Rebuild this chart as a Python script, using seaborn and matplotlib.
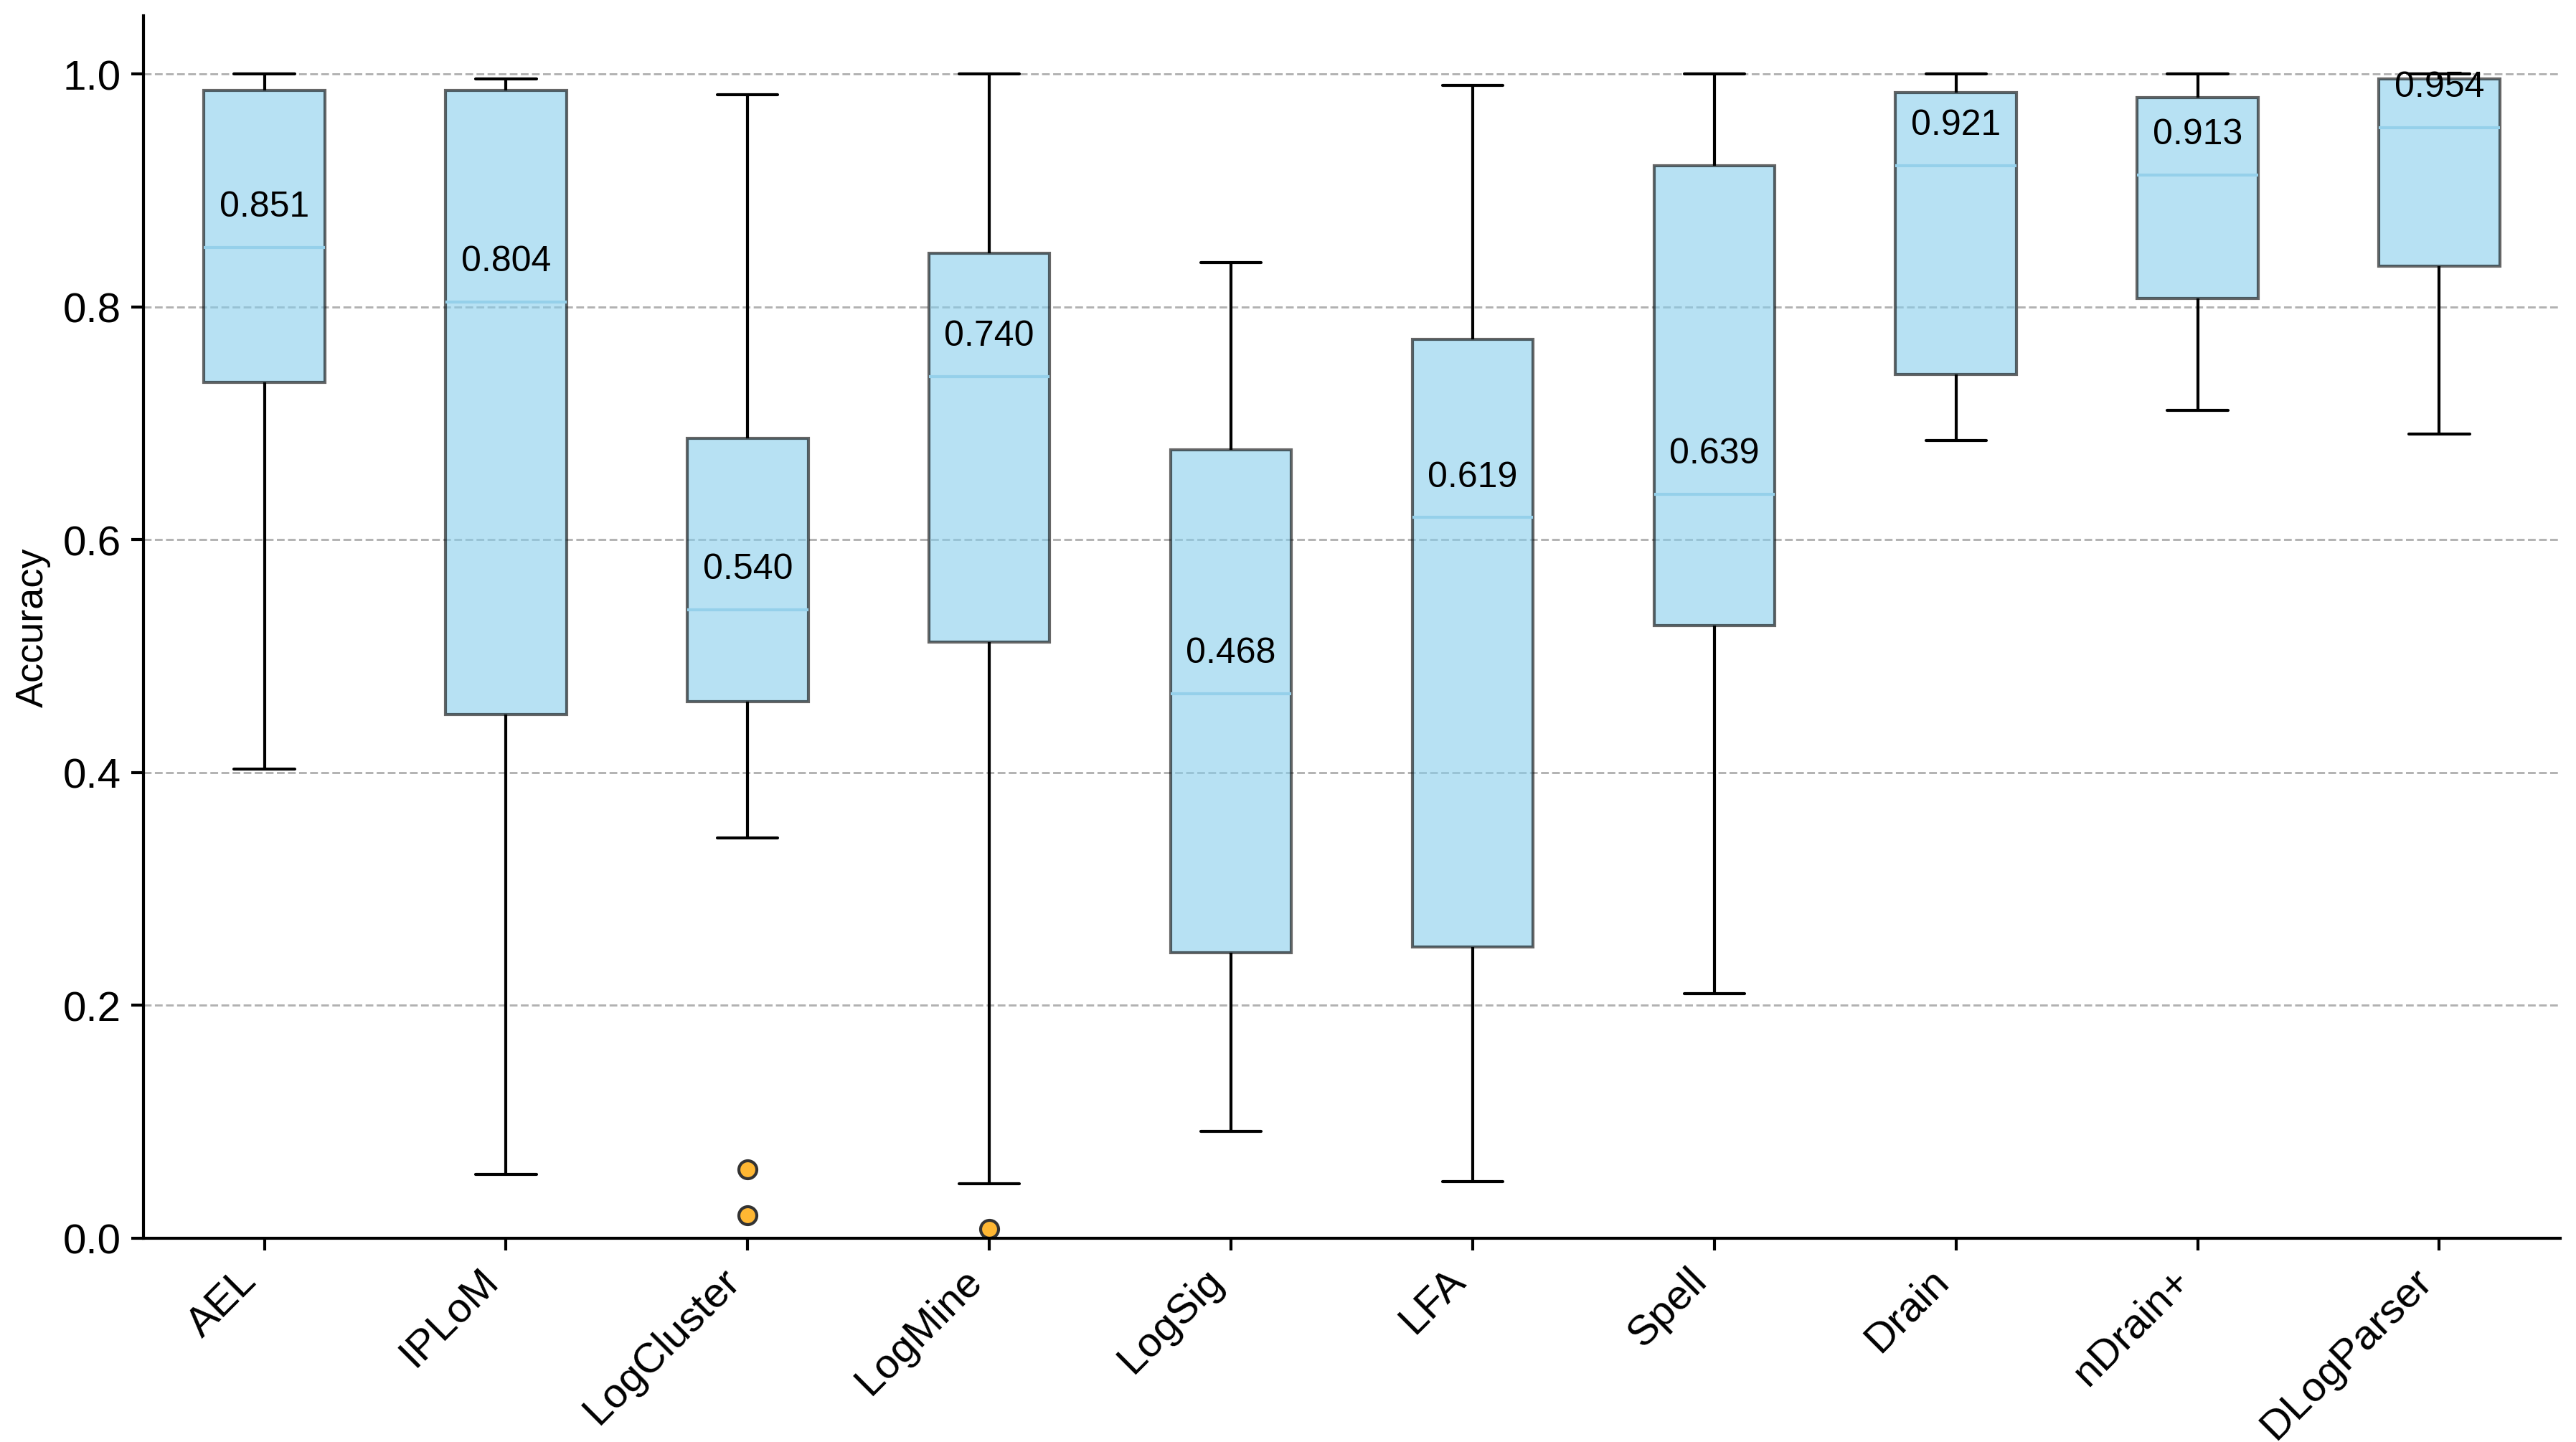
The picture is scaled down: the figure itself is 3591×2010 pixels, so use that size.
import numpy as np
import pandas as pd
import matplotlib
matplotlib.use("Agg")
import matplotlib.pyplot as plt
import seaborn as sns

# Parsing accuracy per log parser (summary values)
parsers = ["AEL", "IPLoM", "LogCluster", "LogMine", "LogSig",
           "LFA", "Spell", "Drain", "nDrain+", "DLogParser"]
whisker_low = [0.403, 0.055, 0.344, 0.047, 0.092, 0.049, 0.210, 0.685, 0.711, 0.691]
q1 = [0.735, 0.450, 0.461, 0.512, 0.245, 0.250, 0.526, 0.742, 0.807, 0.835]
medians = [0.851, 0.804, 0.540, 0.740, 0.468, 0.619, 0.639, 0.921, 0.913, 0.954]
q3 = [0.986, 0.986, 0.687, 0.846, 0.677, 0.772, 0.921, 0.984, 0.980, 0.996]
whisker_high = [1.000, 0.996, 0.982, 1.000, 0.838, 0.990, 1.000, 1.000, 1.000, 1.000]
outliers = {"LogCluster": [0.059, 0.020], "LogMine": [0.008]}


def build_samples(reps=10):
    # repeat each summary value so the computed quartiles land on the read values
    rows = []
    for i, name in enumerate(parsers):
        vals = []
        for v in (whisker_low[i], q1[i], medians[i], q3[i], whisker_high[i]):
            vals += [v] * reps
        vals += outliers.get(name, [])
        rows += [(name, v) for v in vals]
    return pd.DataFrame(rows, columns=["Parser", "Accuracy"])


df = build_samples()

sns.set_theme(style="white")
plt.rcParams["font.family"] = ["Liberation Sans", "DejaVu Sans"]
plt.rcParams["text.color"] = "black"
plt.rcParams["axes.labelcolor"] = "black"
plt.rcParams["xtick.color"] = "black"
plt.rcParams["ytick.color"] = "black"

fig, ax = plt.subplots(figsize=(11.973, 6.703), dpi=300)
fig.subplots_adjust(left=0.0557, right=0.9936, bottom=0.1412, top=0.9886)

sns.boxplot(
    data=df, x="Parser", y="Accuracy", order=parsers, width=0.5, ax=ax,
    whis=1.5,
    boxprops=dict(facecolor=(135/255, 206/255, 235/255, 0.6),
                  edgecolor=(0, 0, 0, 0.6), linewidth=1.0),
    medianprops=dict(color="#95d0ea", linewidth=1.0),
    whiskerprops=dict(color="black", linewidth=1.0),
    capprops=dict(color="black", linewidth=1.0),
    flierprops=dict(marker="o", markerfacecolor="#ffb733",
                    markeredgecolor="#333333", markersize=6,
                    markeredgewidth=1.0),
)

# median labels
for i, m in enumerate(medians):
    ax.text(i, m + 0.035, f"{m:.3f}", ha="center", va="center",
            fontsize=12, color="black")

ax.set_ylim(0, 1.05)
ax.set_xlim(-0.5, len(parsers) - 0.5)
ax.set_xlabel("")
ax.set_ylabel("Accuracy", fontsize=13, color="black")
ax.yaxis.grid(True, linestyle="--", color="gray", alpha=0.6, linewidth=0.7)
ax.set_axisbelow(True)

ax.tick_params(axis="both", which="major", length=4, width=1.0, color="black",
               labelcolor="black", bottom=True, left=True)
plt.setp(ax.get_yticklabels(), fontsize=14)
plt.setp(ax.get_xticklabels(), fontsize=14, rotation=45, ha="right")

for side in ["top", "right"]:
    ax.spines[side].set_visible(False)
for side in ["left", "bottom"]:
    ax.spines[side].set_color("black")
    ax.spines[side].set_linewidth(1.0)

fig.savefig("out.png", dpi=300)
